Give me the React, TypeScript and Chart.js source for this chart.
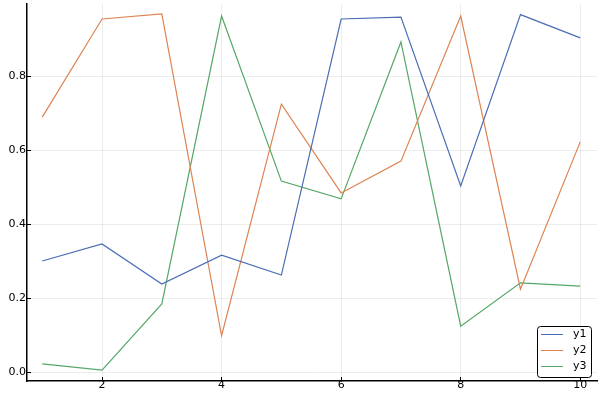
import Chart from "chart.js/auto";
import { useEffect, useRef } from "react";

// values
const xs = [1, 2, 3, 4, 5, 6, 7, 8, 9, 10];
const y1 = [0.3, 0.346, 0.238, 0.316, 0.262, 0.954, 0.959, 0.503, 0.966, 0.903];
const y2 = [0.689, 0.954, 0.968, 0.098, 0.724, 0.484, 0.57, 0.962, 0.224, 0.622];
const y3 = [0.022, 0.005, 0.184, 0.962, 0.516, 0.468, 0.892, 0.124, 0.241, 0.232];
const seriesNames = ["y1", "y2", "y3"];
const seriesColors = ["#4a6db3", "#dd8452", "#55a868"];
const xTicks = [2, 4, 6, 8, 10];
const yTicks = [0, 0.2, 0.4, 0.6, 0.8];

const font = "11px 'DejaVu Sans', sans-serif";

// legend box drawn inside the plot at the bottom right
const innerLegend = {
  id: "innerLegend",
  afterDraw(chart: any) {
    const { ctx, chartArea } = chart;
    const w = 54;
    const h = 51;
    const x = chartArea.right - 6 - w;
    const y = chartArea.bottom - 4 - h;
    ctx.save();
    ctx.fillStyle = "#fff";
    ctx.strokeStyle = "#000";
    ctx.lineWidth = 1;
    ctx.beginPath();
    ctx.roundRect(x + 0.5, y + 0.5, w, h, 3);
    ctx.fill();
    ctx.stroke();
    ctx.font = font;
    ctx.textBaseline = "middle";
    seriesNames.forEach((name, i) => {
      const ry = y + 8.5 + i * 16;
      ctx.strokeStyle = seriesColors[i];
      ctx.beginPath();
      ctx.moveTo(x + 4, ry);
      ctx.lineTo(x + 26, ry);
      ctx.stroke();
      ctx.fillStyle = "#000";
      ctx.fillText(name, x + 36, ry);
    });
    ctx.restore();
  },
};

export default function App() {
  const canvasRef = useRef<HTMLCanvasElement | null>(null);

  useEffect(() => {
    document.body.style.margin = "0";
    if (!canvasRef.current) return;
    const allY = [y1, y2, y3];
    const chart = new Chart(canvasRef.current, {
      type: "line",
      data: {
        datasets: allY.map((ys, i) => ({
          label: seriesNames[i],
          data: xs.map((x, j) => ({ x, y: ys[j] })),
          borderColor: seriesColors[i],
          borderWidth: 1.2,
          pointRadius: 0,
          tension: 0,
        })),
      },
      options: {
        animation: false,
        responsive: false,
        layout: { padding: { top: 4, right: 3, left: 0, bottom: 0 } },
        plugins: { legend: { display: false }, tooltip: { enabled: false } },
        scales: {
          x: {
            type: "linear",
            min: 0.745,
            max: 10.28,
            afterBuildTicks: (axis: any) => {
              axis.ticks = xTicks.map((v) => ({ value: v }));
            },
            afterFit: (axis: any) => {
              axis.height = 19;
              axis.paddingLeft = 0;
              axis.paddingRight = 0;
            },
            ticks: {
              color: "#000",
              font: { family: "'DejaVu Sans', sans-serif", size: 11 },
              padding: 2,
              maxRotation: 0,
            },
            grid: {
              color: "rgba(0,0,0,0.07)",
              tickColor: "#000",
              tickLength: -4,
            },
            border: { color: "#000", width: 1.5 },
          },
          y: {
            min: -0.0243,
            max: 0.9946,
            afterBuildTicks: (axis: any) => {
              axis.ticks = yTicks.map((v) => ({ value: v }));
            },
            afterFit: (axis: any) => {
              axis.width = 27;
              axis.paddingTop = 0;
              axis.paddingBottom = 0;
            },
            ticks: {
              color: "#000",
              font: { family: "'DejaVu Sans', sans-serif", size: 11 },
              padding: 5,
              callback: (v: any) => Number(v).toFixed(1),
            },
            grid: {
              color: "rgba(0,0,0,0.07)",
              tickColor: "#000",
              tickLength: -4,
            },
            border: { color: "#000", width: 1.5 },
          },
        },
      },
      plugins: [innerLegend],
    });
    return () => chart.destroy();
  }, []);

  return <canvas ref={canvasRef} width={600} height={400} />;
}
